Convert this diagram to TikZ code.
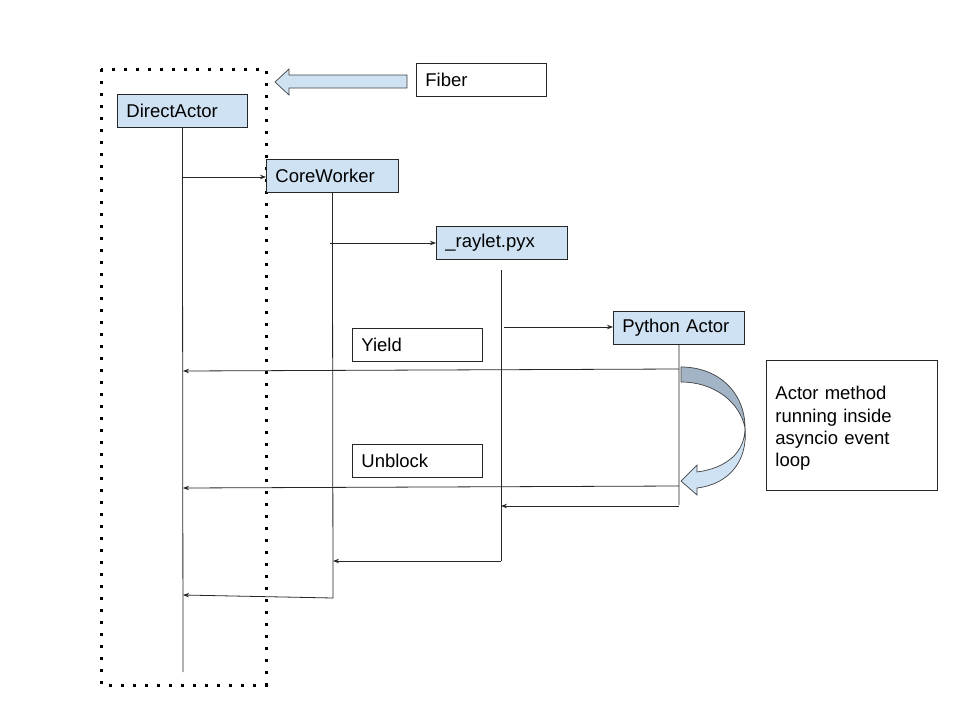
\documentclass[tikz,border=0pt]{standalone}
\usepackage{fontspec}
\setmainfont{Liberation Sans}
\usetikzlibrary{arrows.meta}
\definecolor{lblue}{HTML}{CFE2F3}
\definecolor{dblue}{HTML}{A3B4C6}
\definecolor{edge}{HTML}{404040}
\begin{document}
\begin{tikzpicture}[x=1pt,y=-1pt,
  box/.style={draw=black!85, line width=0.8pt, inner xsep=9pt, inner ysep=0pt,
    minimum height=33pt, align=left, anchor=north west,
    font=\fontsize{18.5}{22.3}\selectfont},
  bluebox/.style={box, fill=lblue},
  life/.style={line width=0.8pt, black!85},
  msg/.style={line width=0.8pt, black!85, -{Stealth[length=6pt,width=4.5pt]}},
  fat/.style={fill=lblue, draw=edge, line width=0.7pt, line join=miter}]
\useasboundingbox (0,0) rectangle (960,720);
% dotted fiber region
\draw[line width=3pt, dash pattern=on 3pt off 9pt] (101,69) rectangle (266,685);
% participants
\node[bluebox, text width=112pt] (da) at (117,94) {DirectActor};
\node[bluebox, text width=114pt] (cw) at (266,159) {CoreWorker};
\node[bluebox, text width=113pt] (ry) at (436,226) {\_raylet.pyx};
\node[bluebox, text width=113pt] (pa) at (613,311) {Python Actor};
% labels
\node[box, fill=white, text width=112pt] (fiber) at (416,63) {Fiber};
\node[box, fill=white, text width=112pt] (yield) at (352,328) {Yield};
\node[box, fill=white, text width=112pt] (unblock) at (352,444) {Unblock};
\node[box, fill=white, text width=153pt, minimum height=130pt] (note) at (766,360)
  {\rule{0pt}{19.5pt}Actor method\\running inside\\asyncio event\\loop};
% lifeline ends
\coordinate (daEnd) at (183,672);
\coordinate (cwEnd) at (333,598);
\coordinate (ryTop) at (501,270);
\coordinate (ryEnd) at (501,561);
\coordinate (paEnd) at (679,505);
\draw[life] (da.south) -- (daEnd);
\draw[life] (cw.south) -- (cwEnd);
\draw[life] (ryTop) -- (ryEnd);
\draw[life] (pa.south) -- (paEnd);
% calls
\coordinate (c1) at (183,177);
\coordinate (c2) at (330,243);
\coordinate (c3) at (504,327);
\draw[msg] (c1) -- (cw.west |- c1);
\draw[msg] (c2) -- (ry.west |- c2);
\draw[msg] (c3) -- (pa.west |- c3);
% returns
\coordinate (r1s) at (679,369);  \coordinate (r1e) at (183,371);
\coordinate (r2s) at (679,486);  \coordinate (r2e) at (183,488);
\coordinate (r3s) at (679,506);  \coordinate (r3e) at (501,506);
\coordinate (r4s) at (501,561);  \coordinate (r4e) at (333,561);
\coordinate (r5s) at (333,598);  \coordinate (r5e) at (183,595);
\draw[msg] (r1s) -- (r1e);
\draw[msg] (r2s) -- (r2e);
\draw[msg] (r3s) -- (r3e);
\draw[msg] (r4s) -- (r4e);
\draw[msg] (r5s) -- (r5e);
% fat arrow from Fiber label
\draw[fat] (275,82) -- (289,69) -- (289,75) -- (407,75) -- (407,88) -- (289,88) -- (289,95) -- cycle;
% curved arrow (event loop)
\draw[fat, fill=dblue] (681,367) .. controls (718,367) and (745,392) .. (745,428)
  .. controls (740,402) and (714,382) .. (681,382) -- cycle;
\draw[fat] (745,428) .. controls (745,452) and (727,468) .. (697,472)
  -- (697,465) -- (681,481) -- (697,495) -- (697,488)
  .. controls (730,484) and (748,460) .. (745,428) -- cycle;
\end{tikzpicture}
\end{document}
